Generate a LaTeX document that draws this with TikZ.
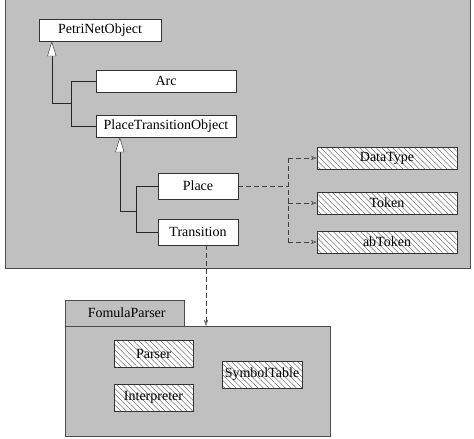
\documentclass[tikz,border=0pt]{standalone}
\usepackage{fontspec}
\setmainfont{Liberation Serif}
\usepackage{tikz}
\usetikzlibrary{arrows.meta}
\usetikzlibrary{patterns.meta}
\definecolor{pkggray}{HTML}{C0C0C0}
\tikzstyle{cls}=[draw=black!80, fill=white, inner sep=0pt, minimum height=22pt, font=\fontsize{14}{16}\selectfont]
\tikzstyle{hatched}=[cls, preaction={fill=white}, pattern={Lines[angle=-45,distance=3.9pt,line width=0.35pt]}, pattern color=black!70]
\tikzstyle{inherit}=[draw=black!85, -{Triangle[open,fill=white,length=15pt,width=9pt]}]
\tikzstyle{link}=[draw=black!85]
\tikzstyle{dep}=[draw=black!75, dash pattern=on 5pt off 3pt]
\tikzstyle{deparrow}=[dep, -{Stealth[length=6pt,width=4pt,open]}]

\begin{document}
\begin{tikzpicture}[x=1pt, y=-1pt]
    \useasboundingbox (0,0) rectangle (474,439);
    \clip (0,0) rectangle (474,439);

    %outer package
    \fill[pkggray, draw=black!70] (5,-5) rectangle (470,268);

    %classes
    \node [cls, minimum width=122pt] (pno) at (100,30) {PetriNetObject};
    \node [cls, minimum width=140pt] (arc) at (166,81) {Arc};
    \node [cls, minimum width=140pt] (pto) at (166,126) {PlaceTransitionObject};
    \node [cls, minimum width=80pt, minimum height=26pt] (place) at (198,186) {Place};
    \node [cls, minimum width=80pt, minimum height=26pt] (trans) at (198,232) {Transition};

    \node [hatched, minimum width=140pt] (dtype) at (387,158) {DataType};
    \node [hatched, minimum width=140pt] (token) at (387,203) {Token};
    \node [hatched, minimum width=140pt] (abtoken) at (387,242) {abToken};

    %inheritance
    \coordinate (bus1) at (71,103);
    \coordinate (bus2) at (136,211);
    \draw[link] (arc.west) -| (bus1 |- pto.west) -- (pto.west);
    \draw[inherit] (bus1) -| ([xshift=13pt]pno.south west);
    \draw[link] (place.west) -| (bus2 |- trans.west) -- (trans.west);
    \draw[inherit] (bus2) -| ([xshift=24pt]pto.south west);

    %dependencies
    \coordinate (dbus) at (288,186);
    \draw[dep] (place.east) -- (dbus);
    \draw[dep] (dbus |- dtype.west) -- (dbus |- abtoken.west);
    \foreach \n in {dtype,token,abtoken}{
    \draw[deparrow] (dbus |- \n.west) -- (\n.west);
    }

    %FomulaParser package
    \node [draw=black!70, fill=pkggray, anchor=north west, minimum width=119pt, minimum height=26pt, inner sep=0pt, font=\fontsize{14}{16}\selectfont] (pkgtab) at (65,300) {\hspace{4pt}FomulaParser\hfill};
    \node [draw=black!70, fill=pkggray, anchor=north west, minimum width=265pt, minimum height=110pt, inner sep=0pt] (pkgbody) at (65,326) {};

    \node [hatched, minimum width=79pt, minimum height=27pt] (parser) at (153.5,353.5) {Parser};
    \node [hatched, minimum width=79pt, minimum height=27pt] (interp) at (153.5,397.5) {Interpreter};
    \node [hatched, minimum width=80pt, minimum height=27pt] (symtab) at (262,374.5) {SymbolTable};

    \draw[deparrow] ([xshift=8pt]trans.south) -- ([xshift=8pt]trans.south |- pkgbody.north);

\end{tikzpicture}
\end{document}
